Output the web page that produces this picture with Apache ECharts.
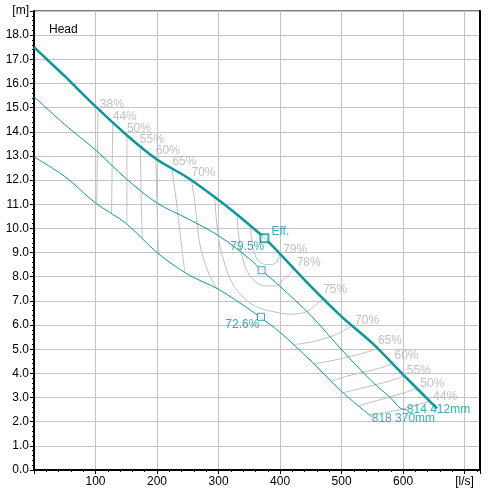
<!DOCTYPE html>
<html>
<head>
<meta charset="utf-8">
<script src="https://cdn.jsdelivr.net/npm/echarts@6/dist/echarts.min.js"></script>
<style>
html,body{margin:0;padding:0;background:#fff;}
#chart{width:500px;height:500px;}
</style>
</head>
<body>
<div id="chart"></div>
<script>
// pump curves [Q l/s, H m]
var curve412 = [[0,17.5],[25,16.9],[50,16.3],[100,15.05],[150,13.88],[200,12.85],[250,12.1],[300,11.18],[330,10.58],[350,10.15],[375,9.6],[400,8.95],[450,7.6],[500,6.35],[550,5.25],[600,3.95],[655,2.55]];
var curveMid = [[0,15.45],[50,14.3],[100,13.25],[150,12.05],[200,11.05],[250,10.4],[300,9.7],[350,8.75],[370,8.27],[400,7.6],[450,6.4],[500,4.98],[550,3.65],[579,3.0],[595,2.57],[606,2.48]];
var curve370 = [[0,12.96],[50,12.15],[100,11.05],[150,10.2],[200,9.0],[250,8.1],[300,7.48],[350,6.65],[369,6.3],[400,5.7],[450,4.52],[500,3.25],[549,2.2]];

// duty points
var pointEff = [[374.5,9.59]];
var pointsBep = [[370,8.27],[369,6.34]];

// iso-efficiency lines
var eff38 = [[104,14.85],[103,13.0],[102,11.02]];
var eff44 = [[128,14.4],[127,12.5],[126,10.62]];
var eff50 = [[151,13.86],[151,12.0],[151,10.2]];
var eff55 = [[173,13.35],[174,11.5],[176,9.6]];
var eff60 = [[198,12.9],[200,11.0],[202,8.97]];
var eff65 = [[224,12.48],[229,11.6],[237,9.9],[245,8.2]];
var eff70L = [[256,12.0],[261,11.2],[265,10.2],[270,9.3],[280,8.4],[292,7.72],[298,7.5]];
var eff75 = [[294,11.3],[296,10.5],[300,9.6],[308,8.7],[322,7.75],[342,7.1],[365,6.72],[390,6.55],[416,6.45],[443,6.55],[458,6.83],[470,7.12]];
var eff78 = [[330,10.56],[332,9.85],[337,9.0],[345,8.3],[358,7.85],[375,7.62],[392,7.62],[405,7.86],[414,8.08],[422,8.36]];
var eff79 = [[352,10.1],[354,9.5],[358,9.0],[365,8.65],[378,8.5],[392,8.55],[400,8.95]];
var eff70R = [[519,6.0],[500,5.72],[487,5.57],[460,5.35],[440,5.25],[425,5.2]];
var eff65R = [[560,5.03],[530,4.8],[498,4.6],[470,4.46],[456,4.4]];
var eff60R = [[584,4.41],[560,4.2],[540,4.08],[515,3.93],[495,3.78],[484,3.68]];
var eff55R = [[603,3.9],[580,3.7],[555,3.53],[528,3.36],[503,3.2]];
var eff50R = [[622,3.38],[600,3.18],[575,3.0],[550,2.82],[527,2.65]];
var eff44R = [[644,2.85],[620,2.68],[595,2.5],[570,2.38],[546,2.28]];

// label positions [Q, H, text]
var grayLabels = [[107,15.14,'38%'],[128,14.62,'44%'],[151,14.14,'50%'],[172,13.68,'55%'],[198,13.21,'60%'],[225,12.78,'65%'],[256,12.32,'70%'],
  [405,9.14,'79%'],[427,8.58,'78%'],[470,7.45,'75%'],[522,6.2,'70%'],[559,5.35,'65%'],[586,4.72,'60%'],[606,4.11,'55%'],[628,3.59,'50%'],[649,3.03,'44%']];
var tealLabels = [[386,9.86,'Eff.'],[319,9.24,'79.5%'],[311,6.0,'72.6%'],[606,2.48,'814 412mm'],[549,2.14,'818 370mm']];

var TEAL = '#0b9898';
var GRAY = '#bfbfbf';

var effLines = [eff38,eff44,eff50,eff55,eff60,eff65,eff70L,eff75,eff78,eff79,eff70R,eff65R,eff60R,eff55R,eff50R,eff44R];

var series = [];
effLines.forEach(function(d){
  series.push({type:'line',data:d,smooth:0.35,showSymbol:false,silent:true,
    lineStyle:{color:GRAY,width:1},z:2});
});
series.push({type:'line',data:curve370,smooth:0.3,showSymbol:false,silent:true,lineStyle:{color:TEAL,width:1},z:3});
series.push({type:'line',data:curveMid,smooth:0.3,showSymbol:false,silent:true,lineStyle:{color:TEAL,width:1},z:3});
series.push({type:'line',data:curve412,smooth:0.3,showSymbol:false,silent:true,lineStyle:{color:TEAL,width:2.5},z:4});
series.push({type:'scatter',data:pointsBep,symbol:'rect',symbolSize:7,silent:true,
  itemStyle:{color:'#fff',borderColor:TEAL,borderWidth:1},z:5});
series.push({type:'scatter',data:pointEff,symbol:'rect',symbolSize:8,silent:true,
  itemStyle:{color:'#fff',borderColor:TEAL,borderWidth:2},z:5});
series.push({type:'scatter',data:grayLabels.map(function(r){return {value:[r[0],r[1]],name:r[2]};}),
  symbolSize:0,silent:true,z:6,
  label:{show:true,position:'right',distance:0,formatter:'{b}',color:'#b0b0b0',fontSize:12}});
series.push({type:'scatter',data:tealLabels.map(function(r){return {value:[r[0],r[1]],name:r[2]};}),
  symbolSize:0,silent:true,z:6,
  label:{show:true,position:'right',distance:0,formatter:'{b}',color:TEAL,fontSize:12}});

var chart = echarts.init(document.getElementById('chart'));
chart.setOption({
  animation:false,
  textStyle:{fontFamily:'Liberation Sans, Arial, sans-serif'},
  title:{text:'Head',left:44,top:19,textStyle:{fontSize:12,fontWeight:'normal',color:'#000',fontFamily:'Liberation Sans, Arial, sans-serif'}},
  grid:{left:34,right:20,top:11,bottom:30,show:true,borderColor:'#000',borderWidth:1},
  xAxis:{type:'value',min:0,max:725,interval:100,
    axisLine:{lineStyle:{color:'#000',width:2}},
    axisTick:{length:4,lineStyle:{color:'#000'}},
    minorTick:{show:true,splitNumber:5,length:2,lineStyle:{color:'#000'}},
    axisLabel:{color:'#000',fontSize:12,margin:6,
      formatter:function(v){return v===0?'':(v===700?'[l/s]':String(v));}},
    splitLine:{lineStyle:{color:'#c4c4c4'}}},
  yAxis:[{type:'value',min:0,max:19,interval:1,
    axisLine:{show:true,lineStyle:{color:'#000',width:2}},
    axisTick:{length:4,lineStyle:{color:'#000'}},
    minorTick:{show:true,splitNumber:5,length:2,lineStyle:{color:'#000'}},
    axisLabel:{color:'#000',fontSize:12,margin:5,
      formatter:function(v){return v===19?'[m]':v.toFixed(1);}},
    splitLine:{lineStyle:{color:'#c4c4c4'}}},
   {type:'value',min:0,max:19,position:'right',
    axisLine:{show:true,lineStyle:{color:'#000',width:2}},
    axisTick:{show:false},axisLabel:{show:false},splitLine:{show:false}}],
  series:series
});
</script>
</body>
</html>
